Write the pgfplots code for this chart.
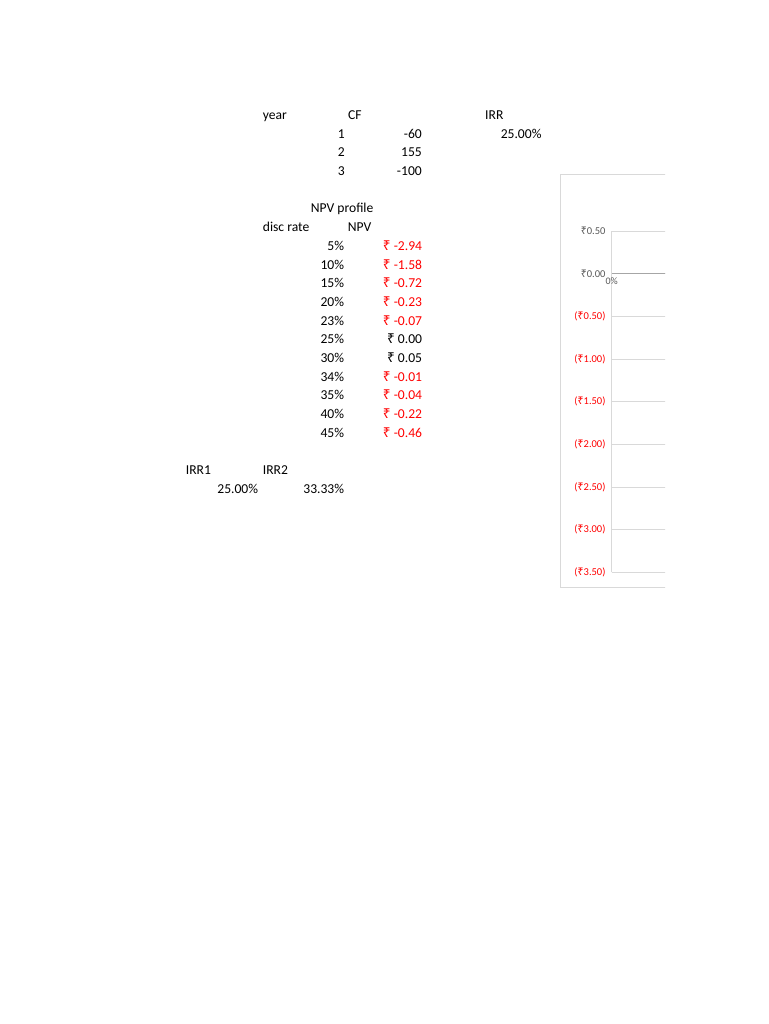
\documentclass[border=0pt]{standalone}
\usepackage{pgfplots}
\pgfplotsset{compat=1.18}
\usepackage{fontspec}
\setmainfont{Carlito}
\newfontfamily\rsfont{Noto Sans}
\newcommand{\rs}{{\rsfont ₹}}
\definecolor{axgray}{HTML}{595959}
\definecolor{gridgray}{HTML}{D9D9D9}
\definecolor{linegray}{HTML}{A6A6A6}
\definecolor{xlred}{HTML}{FF0000}
\definecolor{xlblue}{HTML}{4472C4}

\begin{document}
\fontsize{13.6}{16}\selectfont
\begin{tikzpicture}[x=1pt,y=1pt]
\useasboundingbox[fill=white] (0,0) rectangle (768,-1024);

% sheet cells
\tikzset{cl/.style={anchor=base west, inner sep=0pt},
         cr/.style={anchor=base east, inner sep=0pt}}
\node[cl] at (262.7,-119.4) {year};
\node[cl] at (348,-119.4) {CF};
\node[cl] at (485,-119.4) {IRR};
\node[cr] at (345,-138.1) {1};
\node[cr] at (422,-138.1) {-60};
\node[cr] at (541.7,-138.1) {25.00\%};
\node[cr] at (345,-156.8) {2};
\node[cr] at (422,-156.8) {155};
\node[cr] at (345,-175.5) {3};
\node[cr] at (422,-175.5) {-100};
\node[cl] at (310.7,-212.9) {NPV profile};
\node[cl] at (262.7,-231.6) {disc rate};
\node[cl] at (347.7,-231.6) {NPV};
\foreach \r/\p/\v/\c in {7/5/-2.94/xlred, 8/10/-1.58/xlred, 9/15/-0.72/xlred,
    10/20/-0.23/xlred, 11/23/-0.07/xlred, 12/25/0.00/black, 13/30/0.05/black,
    14/34/-0.01/xlred, 15/35/-0.04/xlred, 16/40/-0.22/xlred, 17/45/-0.46/xlred}{
  \node[cr] at (344.3,{-(119.4+18.7*\r)}) {\p\%};
  \node[cr, text=\c] at (422.3,{-(119.4+18.7*\r)}) {\rs\ \v};
}
\node[cl] at (185.7,-474.7) {IRR1};
\node[cl] at (262.7,-474.7) {IRR2};
\node[cr] at (258.3,-493.4) {25.00\%};
\node[cr] at (344.3,-493.4) {33.33\%};

% chart, cut at the page edge
\begin{scope}
\clip (0,0) rectangle (665,-1024);
\draw[gridgray, line width=0.8pt] (560,-174.3) rectangle (720,-587.3);
\begin{axis}[
  at={(611.7pt,-572.3pt)}, anchor=south west,
  scale only axis, width=600pt, height=341.3pt,
  xmin=0, xmax=0.5, ymin=-3.5, ymax=0.5,
  axis x line=middle, axis y line=left, axis line style={-},
  hide obscured x ticks=false, hide obscured y ticks=false,
  x axis line style={draw=linegray, line width=0.8pt},
  y axis line style={draw=gridgray, line width=0.8pt},
  ymajorgrids, grid style={gridgray, line width=0.8pt},
  major tick length=0pt,
  xtick={0}, xticklabels={0\%},
  xticklabel style={font=\fontsize{10}{12}\selectfont, text=axgray,
    anchor=north, inner sep=1.5pt, yshift=-2pt},
  ytick={-3.5,-3,-2.5,-2,-1.5,-1,-0.5,0,0.5},
  yticklabels={{\color{xlred}(\rs3.50)},{\color{xlred}(\rs3.00)},{\color{xlred}(\rs2.50)},
    {\color{xlred}(\rs2.00)},{\color{xlred}(\rs1.50)},{\color{xlred}(\rs1.00)},
    {\color{xlred}(\rs0.50)},\rs0.00,\rs0.50},
  yticklabel style={font=\fontsize{10.5}{12}\selectfont, text=axgray, xshift=-1.5pt},
]
\addplot[xlblue, line width=1.5pt, mark=*, mark size=2.5pt] coordinates {
  (0.05,-2.94) (0.10,-1.58) (0.15,-0.72) (0.20,-0.23) (0.23,-0.07) (0.25,0.00)
  (0.30,0.05) (0.34,-0.01) (0.35,-0.04) (0.40,-0.22) (0.45,-0.46)
};
\end{axis}
\end{scope}
\end{tikzpicture}
\end{document}
